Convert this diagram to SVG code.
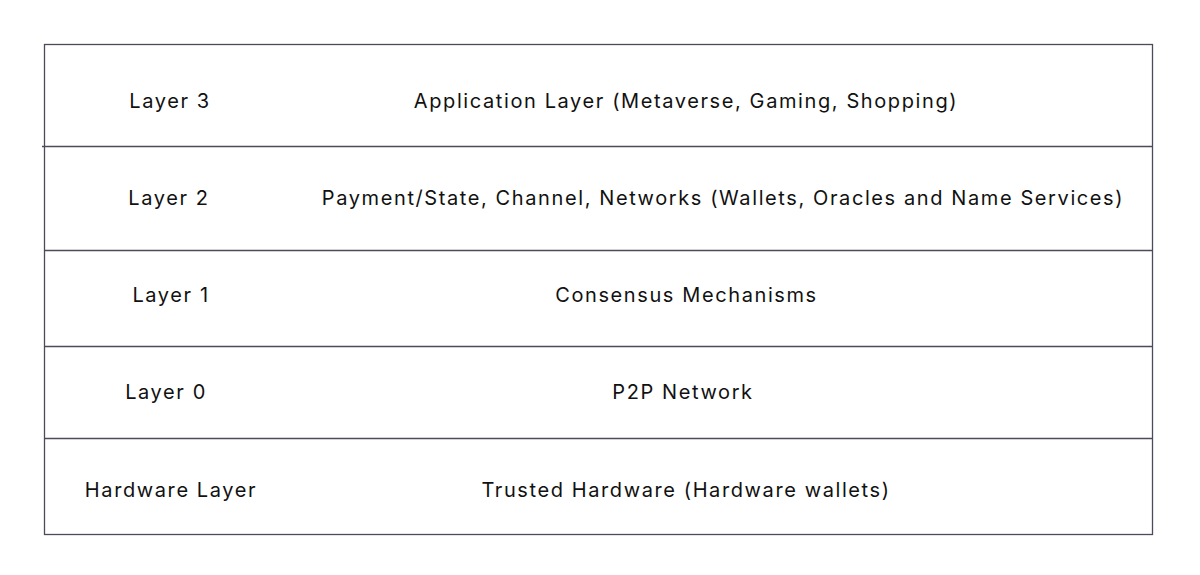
<svg xmlns="http://www.w3.org/2000/svg" width="1200" height="575" viewBox="0 0 1200 575">
<style>
.ln{stroke:#4b4b5c;stroke-width:1.3;fill:none}
.t{font-family:Inter,"Noto Sans","Liberation Sans",sans-serif;font-size:20px;fill:#111;text-anchor:middle;letter-spacing:1.6px}
</style>
<rect width="1200" height="575" fill="#fff"/>
<g id="frame">
<rect class="ln" x="44.5" y="44.5" width="1108" height="490"/>
</g>
<g id="connectors">
<line class="ln" x1="42" y1="146.5" x2="1152.5" y2="146.5"/>
<line class="ln" x1="44.5" y1="250.5" x2="1152.5" y2="250.5"/>
<line class="ln" x1="44.5" y1="346.5" x2="1152.5" y2="346.5"/>
<line class="ln" x1="44.5" y1="438.5" x2="1152.5" y2="438.5"/>
</g>
<g id="layer3">
<text class="t" x="170" y="108">Layer 3</text>
<text class="t" x="686" y="108">Application Layer (Metaverse, Gaming, Shopping)</text>
</g>
<g id="layer2">
<text class="t" x="169" y="205">Layer 2</text>
<text class="t" x="723" y="205">Payment/State, Channel, Networks (Wallets, Oracles and Name Services)</text>
</g>
<g id="layer1">
<text class="t" x="171" y="302">Layer 1</text>
<text class="t" x="686.5" y="302">Consensus Mechanisms</text>
</g>
<g id="layer0">
<text class="t" x="166" y="399">Layer 0</text>
<text class="t" x="683" y="399">P2P Network</text>
</g>
<g id="hardware">
<text class="t" x="171" y="497">Hardware Layer</text>
<text class="t" x="686" y="497">Trusted Hardware (Hardware wallets)</text>
</g>
</svg>
